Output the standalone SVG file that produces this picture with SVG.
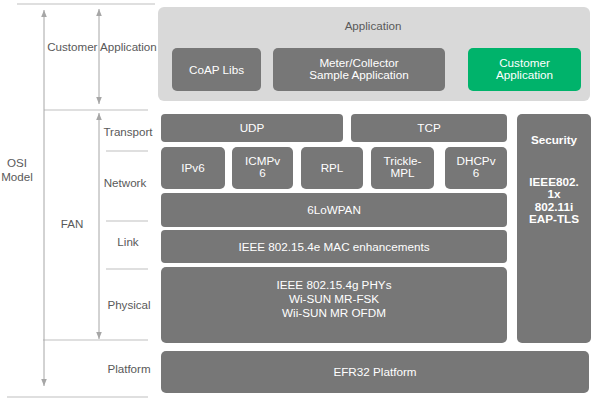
<svg xmlns="http://www.w3.org/2000/svg" width="597" height="400" viewBox="0 0 597 400">
<defs>
<marker id="ah" viewBox="0 0 10 10" refX="10" refY="5" markerWidth="7" markerHeight="7" markerUnits="userSpaceOnUse" orient="auto-start-reverse">
<path d="M0,1 L10,5 L0,9 Z" fill="#a6a6a6"/>
</marker>
<style>
.ln{stroke:#bfbfbf;stroke-width:1;fill:none}
.ar{stroke:#a6a6a6;stroke-width:1;fill:none}
.lb{font-family:"Liberation Sans",Arial,sans-serif;font-size:11.6px;fill:#595959;text-anchor:middle}
.bx{fill:#777777}
.tx{font-family:"Liberation Sans",Arial,sans-serif;font-size:11.7px;fill:#ffffff;text-anchor:middle}
.b{font-weight:bold}
</style>
</defs>
<g id="guides">
<line class="ln" x1="17" y1="4" x2="155" y2="4"/>
<line class="ln" x1="44" y1="110" x2="148" y2="110"/>
<line class="ln" x1="106" y1="151" x2="148" y2="151"/>
<line class="ln" x1="106" y1="221" x2="148" y2="221"/>
<line class="ln" x1="106" y1="269" x2="148" y2="269"/>
<line class="ln" x1="43" y1="340" x2="148" y2="340"/>
<line class="ln" x1="7" y1="397" x2="148" y2="397"/>
</g>
<g id="connectors">
<line class="ar" x1="44" y1="10" x2="44" y2="386" marker-start="url(#ah)" marker-end="url(#ah)"/>
<line class="ar" x1="99" y1="9" x2="99" y2="104" marker-start="url(#ah)" marker-end="url(#ah)"/>
<line class="ar" x1="99" y1="113" x2="99" y2="339" marker-start="url(#ah)" marker-end="url(#ah)"/>
</g>
<g id="labels">
<text class="lb" x="102" y="51">Customer Application</text>
<text class="lb" x="17" y="167">OSI</text>
<text class="lb" x="17" y="181">Model</text>
<text class="lb" x="72" y="228">FAN</text>
<text class="lb" x="128" y="136">Transport</text>
<text class="lb" x="125" y="187">Network</text>
<text class="lb" x="128" y="246">Link</text>
<text class="lb" x="129" y="309">Physical</text>
<text class="lb" x="129" y="373">Platform</text>
</g>
<g id="application">
<rect x="158" y="7" width="432" height="94" rx="6" fill="#d9d9d9"/>
<text class="lb" x="373" y="30">Application</text>
</g>
<g id="coap"><rect class="bx" x="172" y="48" width="89" height="43" rx="5"/><text class="tx" x="216.5" y="74">CoAP Libs</text></g>
<g id="meter"><rect class="bx" x="273" y="48" width="172" height="43" rx="5"/><text class="tx" x="359" y="67">Meter/Collector</text><text class="tx" x="359" y="79">Sample Application</text></g>
<g id="customer"><rect x="468" y="48" width="113" height="43" rx="5" fill="#00b36b"/><text class="tx" x="524.5" y="67">Customer</text><text class="tx" x="524.5" y="79">Application</text></g>
<g id="udp"><rect class="bx" x="161" y="114" width="182" height="28" rx="4"/><text class="tx" x="252" y="132">UDP</text></g>
<g id="tcp"><rect class="bx" x="351" y="114" width="156" height="28" rx="4"/><text class="tx" x="429" y="132">TCP</text></g>
<g id="security"><rect class="bx" x="517" y="114" width="74" height="229" rx="5"/>
<text class="tx b" x="554" y="144">Security</text>
<text class="tx b" x="554" y="186">IEEE802.</text>
<text class="tx b" x="554" y="198">1x</text>
<text class="tx b" x="554" y="211">802.11i</text>
<text class="tx b" x="554" y="223">EAP-TLS</text></g>
<g id="ipv6"><rect class="bx" x="161" y="147" width="64" height="42" rx="5"/><text class="tx" x="193" y="172">IPv6</text></g>
<g id="icmpv6"><rect class="bx" x="232" y="147" width="61" height="42" rx="5"/><text class="tx" x="262.5" y="165">ICMPv</text><text class="tx" x="262.5" y="177">6</text></g>
<g id="rpl"><rect class="bx" x="301" y="147" width="62" height="42" rx="5"/><text class="tx" x="332" y="172">RPL</text></g>
<g id="trickle"><rect class="bx" x="371" y="147" width="63" height="42" rx="5"/><text class="tx" x="402.5" y="165">Trickle-</text><text class="tx" x="402.5" y="177">MPL</text></g>
<g id="dhcpv6"><rect class="bx" x="445" y="147" width="62" height="42" rx="5"/><text class="tx" x="476" y="165">DHCPv</text><text class="tx" x="476" y="177">6</text></g>
<g id="sixlowpan"><rect class="bx" x="161" y="193" width="346" height="34" rx="4"/><text class="tx" x="334" y="214">6LoWPAN</text></g>
<g id="mac"><rect class="bx" x="161" y="230" width="346" height="33" rx="4"/><text class="tx" x="334" y="251">IEEE 802.15.4e MAC enhancements</text></g>
<g id="phy"><rect class="bx" x="161" y="267" width="346" height="76" rx="5"/>
<text class="tx" x="334" y="289">IEEE 802.15.4g PHYs</text>
<text class="tx" x="334" y="303">Wi-SUN MR-FSK</text>
<text class="tx" x="334" y="317">Wii-SUN MR OFDM</text></g>
<g id="platform"><rect class="bx" x="161" y="351" width="428" height="42" rx="5"/><text class="tx" x="375" y="376">EFR32 Platform</text></g>
</svg>
